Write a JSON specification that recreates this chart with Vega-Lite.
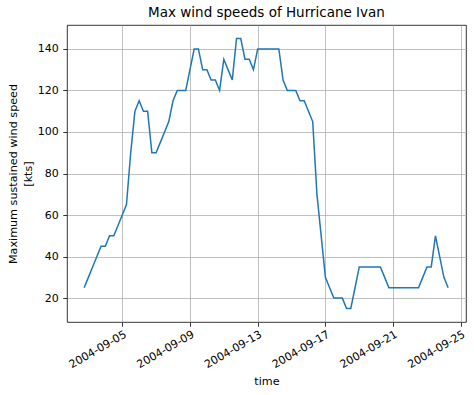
{
  "$schema": "https://vega.github.io/schema/vega-lite/v6.json",
  "width": 399,
  "height": 297,
  "autosize": "none",
  "padding": {"left": 67, "top": 25, "right": 8, "bottom": 73},
  "background": "white",
  "title": {"text": "Max wind speeds of Hurricane Ivan", "font": "DejaVu Sans", "fontSize": 13.5, "fontWeight": "normal", "color": "black", "offset": 6},
  "config": {
    "view": {"stroke": "black", "strokeWidth": 0.8},
    "axis": {
      "domain": false,
      "grid": true,
      "gridColor": "#b0b0b0",
      "gridWidth": 0.8,
      "tickColor": "black",
      "tickSize": 4.2,
      "tickWidth": 0.8,
      "labelFont": "DejaVu Sans",
      "labelFontSize": 11,
      "labelColor": "black",
      "labelPadding": 4.5,
      "titleFont": "DejaVu Sans",
      "titleFontSize": 11.2,
      "titleFontWeight": "normal",
      "titleColor": "black"
    }
  },
  "data": {"values": [
    {"time": "2004-09-02T18:00:00Z", "wind": 25},
    {"time": "2004-09-03T00:00:00Z", "wind": 30},
    {"time": "2004-09-03T06:00:00Z", "wind": 35},
    {"time": "2004-09-03T12:00:00Z", "wind": 40},
    {"time": "2004-09-03T18:00:00Z", "wind": 45},
    {"time": "2004-09-04T00:00:00Z", "wind": 45},
    {"time": "2004-09-04T06:00:00Z", "wind": 50},
    {"time": "2004-09-04T12:00:00Z", "wind": 50},
    {"time": "2004-09-04T18:00:00Z", "wind": 55},
    {"time": "2004-09-05T00:00:00Z", "wind": 60},
    {"time": "2004-09-05T06:00:00Z", "wind": 65},
    {"time": "2004-09-05T12:00:00Z", "wind": 90},
    {"time": "2004-09-05T18:00:00Z", "wind": 110},
    {"time": "2004-09-06T00:00:00Z", "wind": 115},
    {"time": "2004-09-06T06:00:00Z", "wind": 110},
    {"time": "2004-09-06T12:00:00Z", "wind": 110},
    {"time": "2004-09-06T18:00:00Z", "wind": 90},
    {"time": "2004-09-07T00:00:00Z", "wind": 90},
    {"time": "2004-09-07T06:00:00Z", "wind": 95},
    {"time": "2004-09-07T12:00:00Z", "wind": 100},
    {"time": "2004-09-07T18:00:00Z", "wind": 105},
    {"time": "2004-09-08T00:00:00Z", "wind": 115},
    {"time": "2004-09-08T06:00:00Z", "wind": 120},
    {"time": "2004-09-08T12:00:00Z", "wind": 120},
    {"time": "2004-09-08T18:00:00Z", "wind": 120},
    {"time": "2004-09-09T00:00:00Z", "wind": 130},
    {"time": "2004-09-09T06:00:00Z", "wind": 140},
    {"time": "2004-09-09T12:00:00Z", "wind": 140},
    {"time": "2004-09-09T18:00:00Z", "wind": 130},
    {"time": "2004-09-10T00:00:00Z", "wind": 130},
    {"time": "2004-09-10T06:00:00Z", "wind": 125},
    {"time": "2004-09-10T12:00:00Z", "wind": 125},
    {"time": "2004-09-10T18:00:00Z", "wind": 120},
    {"time": "2004-09-11T00:00:00Z", "wind": 135},
    {"time": "2004-09-11T06:00:00Z", "wind": 130},
    {"time": "2004-09-11T12:00:00Z", "wind": 125},
    {"time": "2004-09-11T18:00:00Z", "wind": 145},
    {"time": "2004-09-12T00:00:00Z", "wind": 145},
    {"time": "2004-09-12T06:00:00Z", "wind": 135},
    {"time": "2004-09-12T12:00:00Z", "wind": 135},
    {"time": "2004-09-12T18:00:00Z", "wind": 130},
    {"time": "2004-09-13T00:00:00Z", "wind": 140},
    {"time": "2004-09-13T06:00:00Z", "wind": 140},
    {"time": "2004-09-13T12:00:00Z", "wind": 140},
    {"time": "2004-09-13T18:00:00Z", "wind": 140},
    {"time": "2004-09-14T00:00:00Z", "wind": 140},
    {"time": "2004-09-14T06:00:00Z", "wind": 140},
    {"time": "2004-09-14T12:00:00Z", "wind": 125},
    {"time": "2004-09-14T18:00:00Z", "wind": 120},
    {"time": "2004-09-15T00:00:00Z", "wind": 120},
    {"time": "2004-09-15T06:00:00Z", "wind": 120},
    {"time": "2004-09-15T12:00:00Z", "wind": 115},
    {"time": "2004-09-15T18:00:00Z", "wind": 115},
    {"time": "2004-09-16T00:00:00Z", "wind": 110},
    {"time": "2004-09-16T06:00:00Z", "wind": 105},
    {"time": "2004-09-16T12:00:00Z", "wind": 70},
    {"time": "2004-09-16T18:00:00Z", "wind": 50},
    {"time": "2004-09-17T00:00:00Z", "wind": 30},
    {"time": "2004-09-17T06:00:00Z", "wind": 25},
    {"time": "2004-09-17T12:00:00Z", "wind": 20},
    {"time": "2004-09-17T18:00:00Z", "wind": 20},
    {"time": "2004-09-18T00:00:00Z", "wind": 20},
    {"time": "2004-09-18T06:00:00Z", "wind": 15},
    {"time": "2004-09-18T12:00:00Z", "wind": 15},
    {"time": "2004-09-18T18:00:00Z", "wind": 25},
    {"time": "2004-09-19T00:00:00Z", "wind": 35},
    {"time": "2004-09-19T06:00:00Z", "wind": 35},
    {"time": "2004-09-19T12:00:00Z", "wind": 35},
    {"time": "2004-09-19T18:00:00Z", "wind": 35},
    {"time": "2004-09-20T00:00:00Z", "wind": 35},
    {"time": "2004-09-20T06:00:00Z", "wind": 35},
    {"time": "2004-09-20T12:00:00Z", "wind": 30},
    {"time": "2004-09-20T18:00:00Z", "wind": 25},
    {"time": "2004-09-21T00:00:00Z", "wind": 25},
    {"time": "2004-09-21T06:00:00Z", "wind": 25},
    {"time": "2004-09-21T12:00:00Z", "wind": 25},
    {"time": "2004-09-21T18:00:00Z", "wind": 25},
    {"time": "2004-09-22T00:00:00Z", "wind": 25},
    {"time": "2004-09-22T06:00:00Z", "wind": 25},
    {"time": "2004-09-22T12:00:00Z", "wind": 25},
    {"time": "2004-09-22T18:00:00Z", "wind": 30},
    {"time": "2004-09-23T00:00:00Z", "wind": 35},
    {"time": "2004-09-23T06:00:00Z", "wind": 35},
    {"time": "2004-09-23T12:00:00Z", "wind": 50},
    {"time": "2004-09-23T18:00:00Z", "wind": 40},
    {"time": "2004-09-24T00:00:00Z", "wind": 30},
    {"time": "2004-09-24T06:00:00Z", "wind": 25}
  ]},
  "mark": {"type": "line", "color": "#1f77b4", "strokeWidth": 1.5, "clip": true},
  "encoding": {
    "x": {
      "field": "time",
      "type": "temporal",
      "scale": {
        "type": "utc",
        "domain": [
          {"year": 2004, "month": 9, "date": 1, "hours": 17, "minutes": 42, "utc": true},
          {"year": 2004, "month": 9, "date": 25, "hours": 7, "minutes": 18, "utc": true}
        ]
      },
      "axis": {
        "title": "time",
        "values": [
          {"year": 2004, "month": 9, "date": 5, "utc": true},
          {"year": 2004, "month": 9, "date": 9, "utc": true},
          {"year": 2004, "month": 9, "date": 13, "utc": true},
          {"year": 2004, "month": 9, "date": 17, "utc": true},
          {"year": 2004, "month": 9, "date": 21, "utc": true},
          {"year": 2004, "month": 9, "date": 25, "utc": true}
        ],
        "format": "%Y-%m-%d",
        "formatType": "time",
        "labelAngle": -30,
        "labelAlign": "right",
        "labelBaseline": "top",
        "labelPadding": 2,
        "titlePadding": 6
      }
    },
    "y": {
      "field": "wind",
      "type": "quantitative",
      "scale": {"domain": [8.5, 151.5], "nice": false, "zero": false},
      "axis": {
        "title": ["Maximum sustained wind speed", "[kts]"],
        "titleLineHeight": 15,
        "values": [20, 40, 60, 80, 100, 120, 140],
        "titlePadding": 4
      }
    }
  }
}
